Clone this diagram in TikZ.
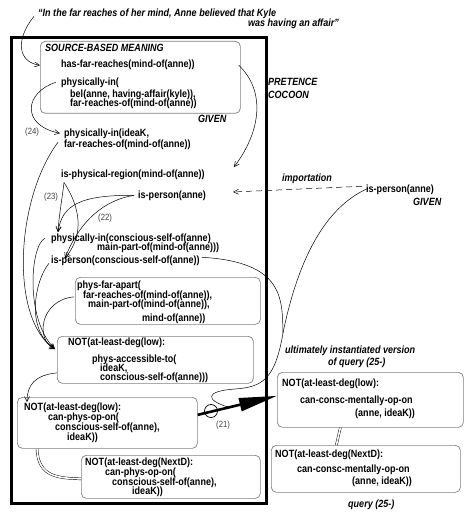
\documentclass[tikz,border=0pt]{standalone}
\usepackage{fontspec}
\setmainfont{Liberation Sans}
\newfontfamily\nfont{Liberation Sans}[FakeStretch=0.86]
\usetikzlibrary{arrows.meta}
\begin{document}
\begin{tikzpicture}[x=1pt,y=-1pt,
  tx/.style={anchor=base west, inner sep=0pt, font=\nfont\bfseries\fontsize{10.5}{10.5}\selectfont},
  ti/.style={anchor=base west, inner sep=0pt, font=\nfont\bfseries\itshape\fontsize{10.5}{10.5}\selectfont},
  num/.style={anchor=base west, inner sep=0pt, font=\nfont\fontsize{9}{9}\selectfont, text=black!75},
  rbox/.style={draw=black!50, line width=0.7pt, rounded corners=5pt, anchor=north west, inner sep=0pt},
  con/.style={line width=0.5pt, -{Straight Barb[length=5pt,width=5pt]}},
  plain/.style={line width=0.5pt},
  dbl/.style={double, double distance=1.6pt, line width=0.45pt}
]
\useasboundingbox (0,0) rectangle (474,513);
% boxes
\node[draw, line width=3pt, anchor=north west, inner sep=0pt, minimum width=255pt, minimum height=466pt] (cocoon) at (10,36) {};
\node[rbox, minimum width=200pt, minimum height=72pt] (sbm) at (40,41) {};
\node[rbox, minimum width=185pt, minimum height=47pt] (pfa) at (75,277) {};
\node[rbox, minimum width=196pt, minimum height=47pt] (npa) at (57,336) {};
\node[rbox, minimum width=180pt, minimum height=51pt] (lcp) at (17,397) {};
\node[rbox, minimum width=179pt, minimum height=43pt] (nd) at (81,455) {};
\node[rbox, minimum width=186pt, minimum height=55pt] (rb1) at (277,372) {};
\node[rbox, minimum width=189pt, minimum height=47pt] (rb2) at (271,445) {};
% quote
\node[ti] (q1) at (38,17) {“In the far reaches of her mind, Anne believed that Kyle};
\node[ti, anchor=base east] (q2) at (339,27) {was having an affair”};
% source-based meaning
\node[ti] (sbmt) at (45,52) {SOURCE-BASED MEANING};
\node[tx] (hfr) at (61,68) {has-far-reaches(mind-of(anne))};
\node[tx] (pin) at (61,86) {physically-in(};
\node[tx] (bel) at (70,98) {bel(anne, having-affair(kyle)),};
\node[tx] (fro1) at (70,107) {far-reaches-of(mind-of(anne))};
\node[ti] (giv1) at (198,123) {GIVEN};
\node[ti] (pre) at (268,86) {PRETENCE};
\node[ti] (coc) at (268,99) {COCOON};
\node[num] (n24) at (25,135) {(24)};
\node[tx] (piK) at (64,137) {physically-in(ideaK,};
\node[tx] (fro2) at (64,147) {far-reaches-of(mind-of(anne))};
\node[tx] (ipr) at (61,177) {is-physical-region(mind-of(anne))};
\node[tx] (ipa) at (138,198) {is-person(anne)};
\node[num] (n23) at (44,199) {(23)};
\node[num] (n22) at (98,220) {(22)};
\node[tx] (pic) at (51,241) {physically-in(conscious-self-of(anne)};
\node[tx] (mpo) at (97,250) {main-part-of(mind-of(anne)))};
\node[tx] (isp) at (51,263) {is-person(conscious-self-of(anne))};
\node[ti] (imp) at (282,181) {importation};
\node[tx] (ipa2) at (366,192) {is-person(anne)};
\node[ti] (giv2) at (413,205) {GIVEN};
% phys-far-apart
\node[tx] (pfa1) at (77,288) {phys-far-apart(};
\node[tx] (pfa2) at (83,298) {far-reaches-of(mind-of(anne)),};
\node[tx] (pfa3) at (88,307) {main-part-of(mind-of(anne)),};
\node[tx] (pfa4) at (142,321) {mind-of(anne))};
% NOT phys-accessible
\node[tx] (npa1) at (68,345) {NOT(at-least-deg(low):};
\node[tx] (npa2) at (92,362) {phys-accessible-to(};
\node[tx] (npa3) at (100,371) {ideaK,};
\node[tx] (npa4) at (100,380) {conscious-self-of(anne)))};
% left can-phys-op-on
\node[tx] (lcp1) at (24,410) {NOT(at-least-deg(low):};
\node[tx] (lcp2) at (48,420) {can-phys-op-on(};
\node[tx] (lcp3) at (55,430) {conscious-self-of(anne),};
\node[tx] (lcp4) at (67,440) {ideaK))};
\node[tx] (nd1) at (85,465) {NOT(at-least-deg(NextD):};
\node[tx] (nd2) at (105,475) {can-phys-op-on(};
\node[tx] (nd3) at (112,485) {conscious-self-of(anne),};
\node[tx] (nd4) at (132,494) {ideaK))};
% right side
\node[ti] (ult1) at (285,353) {ultimately instantiated version};
\node[ti] (ult2) at (328,365) {of query (25-)};
\node[tx] (rb11) at (282,386) {NOT(at-least-deg(low):};
\node[tx] (rb12) at (300,403) {can-consc-mentally-op-on};
\node[tx] (rb13) at (355,416) {(anne, ideaK))};
\node[tx] (rb21) at (275,457) {NOT(at-least-deg(NextD):};
\node[tx] (rb22) at (297,472) {can-consc-mentally-op-on};
\node[tx] (rb23) at (352,484) {(anne, ideaK))};
\node[ti] (qry) at (348,507) {query (25-)};
\node[num] (n21) at (216,427) {(21)};
% free ends
\coordinate (c3end) at (234,167);
\coordinate (impend) at (233,192);
\coordinate (merge) at (283,333);
\coordinate (jn) at (228,407);
% connectors
\draw[con] ([shift={(-4,2)}]q1.west) .. controls (15,40) and (18,62) .. (sbm.west |- hfr.west);
\draw[con] ([shift={(-5,-1)}]pin.west) .. controls (25,92) and (20,125) .. ([shift={(-4,-1)}]piK.west);
\draw[con] ([shift={(-2,0)}]sbm.east |- hfr.west) .. controls (265,90) and (262,130) .. (c3end);
\draw[con] ([shift={(3,3)}]ipr.south west) .. controls (62,200) and (59,215) .. ([shift={(7,-1)}]pic.north west);
\draw[con] ([shift={(3,3)}]ipr.south west) .. controls (85,215) and (80,240) .. ([shift={(14,3)}]isp.north west);
\draw[con] ([shift={(-4,0)}]ipa.west) .. controls (80,195) and (62,205) .. ([shift={(7,-1)}]pic.north west);
\draw[con] ([shift={(-4,0)}]ipa.west) .. controls (105,200) and (80,220) .. ([shift={(14,3)}]isp.north west);
\draw[con] ([shift={(-6,-2)}]fro2.west) .. controls (15,200) and (10,320) .. ([shift={(-2,13)}]npa.north west);
\draw[con] ([shift={(-6,0)}]pic.west) .. controls (30,245) and (25,320) .. ([shift={(-2,13)}]npa.north west);
\draw[con] ([shift={(-2,3)}]isp.west) .. controls (35,280) and (25,330) .. ([shift={(-2,13)}]npa.north west);
\draw[con] ([shift={(-1,-4)}]pfa.west) .. controls (40,300) and (35,340) .. ([shift={(-2,13)}]npa.north west);
\draw[con] ([shift={(0,13)}]npa.west) .. controls (35,375) and (27,385) .. ([shift={(10,5)}]lcp.north west);
\draw[con, dash pattern=on 6pt off 4pt] ([shift={(-4,-3)}]ipa2.west) -- (impend);
\draw[plain] ([shift={(2,-3)}]isp.east) .. controls (285,262) and (282,300) .. (merge);
\draw[plain] ([shift={(2,-6)}]ipa2.south west) .. controls (330,205) and (300,250) .. (merge);
\draw[plain] (merge) .. controls (275,380) and (262,387) .. (235,389) .. controls (205,391) and (205,400) .. (jn);
\draw[line width=2.6pt, -{Triangle[length=38pt,width=13pt]}] ([shift={(0,-8)}]lcp.east) -- ([shift={(0,-4)}]rb1.west);
\node[draw, circle, line width=0.7pt, minimum size=13pt, inner sep=0pt] (circ) at (211,411) {};
\draw[dbl] ([shift={(20,0)}]lcp.south west) .. controls (38,478) and (60,478) .. ([shift={(0,2)}]nd.west);
\draw[dbl] ([shift={(-30,0)}]rb1.south) -- ([shift={(-29.5,0)}]rb2.north);
\end{tikzpicture}
\end{document}
